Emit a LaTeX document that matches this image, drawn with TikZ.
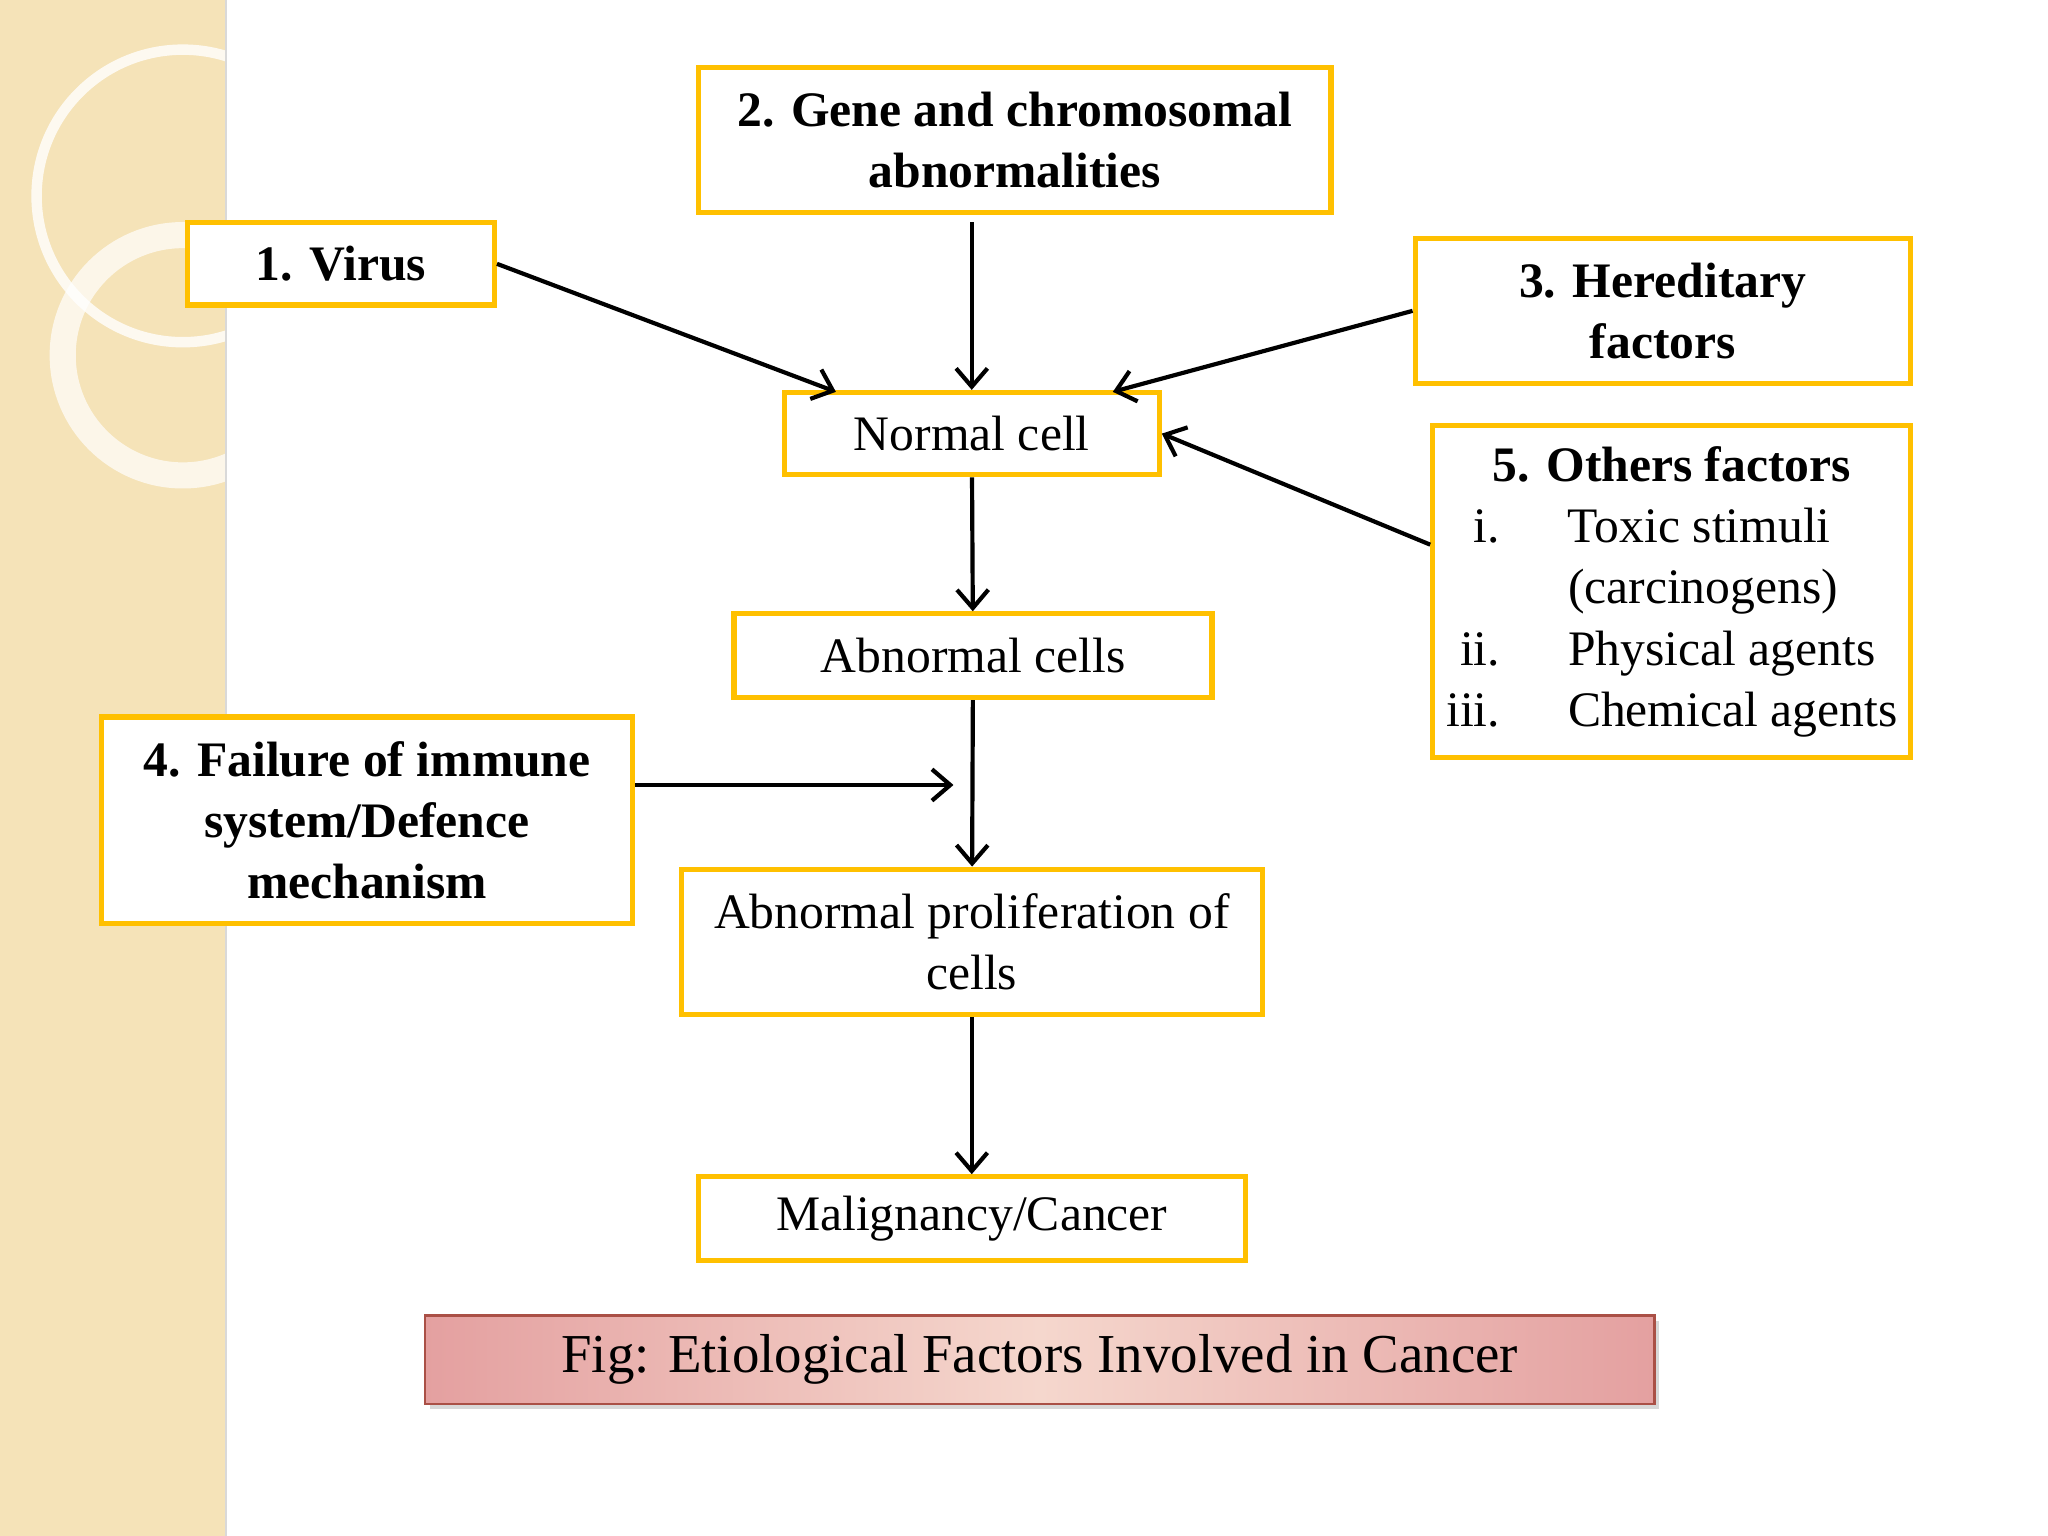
\documentclass[tikz,border=0pt]{standalone}
\usepackage{fontspec}
\setmainfont{Liberation Serif}
\usetikzlibrary{arrows.meta,shadows}
\definecolor{bx}{HTML}{FFC000}
\definecolor{beige}{HTML}{F5E3B8}
\begin{document}
\begin{tikzpicture}[x=0.5pt,y=-0.5pt,
 box/.style={draw=bx,line width=2pt,fill=white,align=center,inner sep=0pt,font=\fontsize{19}{23.5}\selectfont},
 arr/.style={line width=1.6pt,-{Straight Barb[length=7pt,width=12pt,line width=1.6pt]}}]
\useasboundingbox (0,0) rectangle (1568,1176);
\fill[white] (0,0) rectangle (1568,1176);
\fill[beige] (0,0) rectangle (173,1176);
\draw[white,line width=4pt,opacity=0.8] (140,150) circle (112);
\draw[white,line width=10pt,opacity=0.7] (140,272) circle (92);
\draw[black!15,line width=1pt] (173,0) -- (173,1176);
% boxes
\node[box,minimum width=484*0.5pt,minimum height=111*0.5pt] (gene) at (777,107) {\textbf{2. Gene and chromosomal}\\\textbf{abnormalities}};
\node[box,minimum width=235*0.5pt,minimum height=63*0.5pt] (virus) at (261,202) {\textbf{1. Virus}};
\node[box,minimum width=379*0.5pt,minimum height=111*0.5pt] (her) at (1273,238) {\textbf{3. Hereditary}\\\textbf{factors}};
\node[box,minimum width=287*0.5pt,minimum height=63*0.5pt] (normal) at (744,332) {Normal cell};
\node[box,minimum width=366*0.5pt,minimum height=254*0.5pt] (oth) at (1280,453) {%
\begin{tabular}{@{}r@{\hspace{26pt}}l@{}}
\multicolumn{2}{c}{\textbf{5. Others factors}}\\
i. & Toxic stimuli\\
 & (carcinogens)\\
ii. & Physical agents\\
iii. & Chemical agents
\end{tabular}};
\node[box,minimum width=366*0.5pt,minimum height=64*0.5pt] (abn) at (745,502) {Abnormal cells};
\node[box,minimum width=406*0.5pt,minimum height=158*0.5pt] (fail) at (281,628) {\textbf{4. Failure of immune}\\\textbf{system/Defence}\\\textbf{mechanism}};
\node[box,minimum width=445*0.5pt,minimum height=111*0.5pt] (prol) at (744,721) {Abnormal proliferation of\\cells};
\node[box,minimum width=419*0.5pt,minimum height=64*0.5pt] (mal) at (744,933) {Malignancy/Cancer};
\node[draw={rgb,255:red,170;green,80;blue,70},line width=1pt,left color={rgb,255:red,228;green,160;blue,160},right color={rgb,255:red,228;green,160;blue,160},middle color={rgb,255:red,245;green,215;blue,205},
 minimum width=941*0.5pt,minimum height=68*0.5pt,inner sep=0pt,drop shadow={shadow xshift=2pt,shadow yshift=-2pt,opacity=0.3},
 font=\fontsize{21}{25}\selectfont] (cap) at (796,1041) {Fig: Etiological Factors Involved in Cancer};
% arrows
\coordinate (fe) at (730,601);
\coordinate (gs) at (744,170);
\draw[arr] (virus.east) -- (640,300);
\draw[arr] (gs) -- (normal.north);
\draw[arr] (her.west) -- (852,300);
\draw[arr] (oth.west) ++(0,-36) -- (normal.east);
\draw[arr] (normal) -- (abn);
\draw[arr] (abn) -- (prol);
\draw[arr] (fail.east|-fe) -- (fe);
\draw[arr] (prol) -- (mal);
\end{tikzpicture}
\end{document}
